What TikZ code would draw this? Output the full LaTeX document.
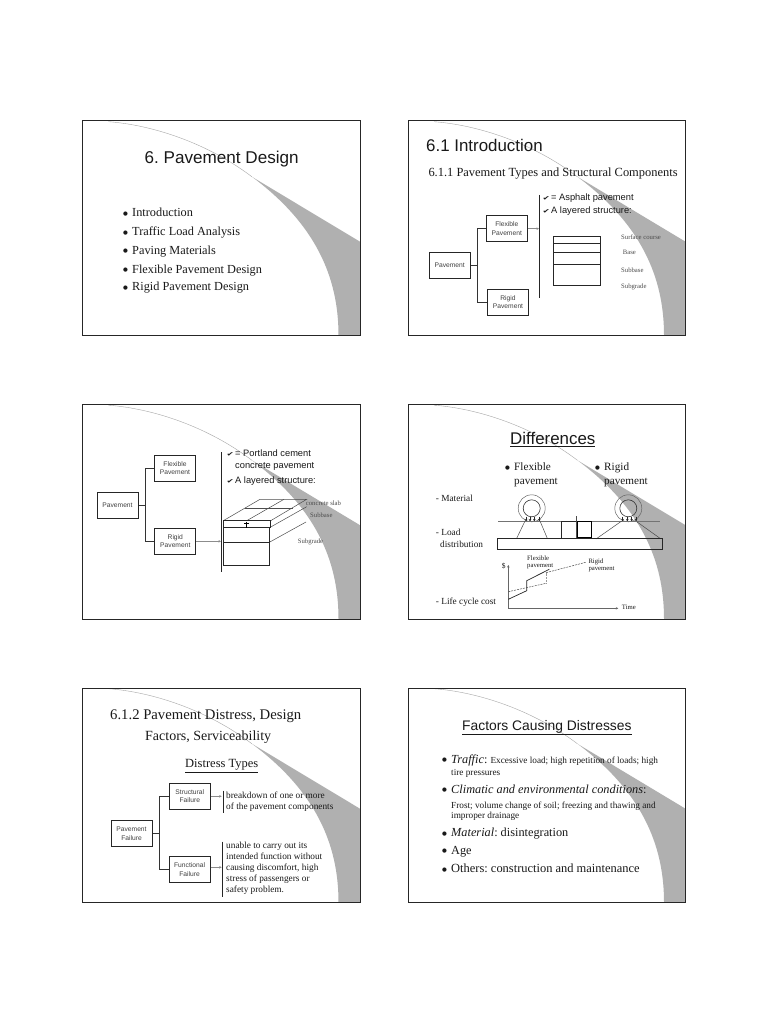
\documentclass[tikz,border=0pt]{standalone}
\usepackage{fontspec}
\usepackage{graphicx}
\setmainfont{Liberation Serif}
\setsansfont{Liberation Sans}
\newfontfamily\symfont{DejaVu Sans}
\usetikzlibrary{arrows.meta}
\frenchspacing

\newcommand{\fsz}[1]{\fontsize{#1}{#1}\selectfont}
\newcommand{\chk}{\makebox[8.5pt][l]{\scalebox{1.25}[0.9]{\symfont\fontsize{7}{7}\selectfont ✔}}}
\newcommand{\blt}{\makebox[9pt][l]{\raisebox{1.4pt}{\symfont\fontsize{5.5}{5.5}\selectfont ●}}}

\tikzset{
    txt/.style={anchor=base west,inner sep=0pt,text=black!90},
    para/.style={anchor=north west,inner sep=0pt,align=left,text=black!90},
    title/.style={anchor=base west,inner sep=0pt,font=\sffamily\fsz{#1},text=black!90},
    boxnode/.style={draw=black!85,line width=1pt,inner sep=0pt,align=center,
        minimum width=41pt,minimum height=26pt,text=black!75,
        font=\sffamily\fontsize{6.7}{8.3}\selectfont},
    tree/.style={draw=black!80,line width=1pt},
    feed/.style={draw=black!45,line width=0.6pt,-{Stealth[length=2.5pt,width=2.5pt]}},
    rule/.style={draw=black!85,line width=0.9pt},
    small/.style={anchor=west,inner sep=0pt,text=black!70,font=\fsz{6.7}},
    load/.style={draw=black!85,line width=0.6pt,-{Stealth[length=2.5pt,width=2.5pt]}}
}
\definecolor{swoosh}{gray}{0.69}

\begin{document}
\begin{tikzpicture}[x=1pt,y=-1pt]
    \useasboundingbox (0,0) rectangle (768,1024);
    \fill[white] (0,0) rectangle (768,1024);

    % the same background on all six slides
    \foreach \sx/\sy in {82.5/121,408/121,82.5/404.5,408/404.5,82.5/688,408/688} {
        \begin{scope}[shift={(\sx,\sy)}]
            \fill[swoosh] (169.3,55.7) -- (277.5,120.7) -- (277.5,214.5) -- (256,214.5)
                .. controls (256,165) and (240,108) .. (169.3,55.7);
            \draw[black!35,line width=0.4pt] (26,0.7) .. controls (70,4) and (125,22) .. (169.3,55.7);
            \draw[black!85,line width=1pt] (0,0) rectangle (277.5,214.5);
        \end{scope}
    }

    % slide 1
    \node[title=17.1] (s1title) at (144.5,164) {6. Pavement Design};
    \node[txt,font=\fsz{12.3}] (s1a) at (123,217) {\blt Introduction};
    \node[txt,font=\fsz{12.3}] (s1b) at (123,235.5) {\blt Traffic Load Analysis};
    \node[txt,font=\fsz{12.3}] (s1c) at (123,254) {\blt Paving Materials};
    \node[txt,font=\fsz{12.3}] (s1d) at (123,273) {\blt Flexible Pavement Design};
    \node[txt,font=\fsz{12.3}] (s1e) at (123,290.5) {\blt Rigid Pavement Design};

    % slide 2
    \node[title=16.9] (s2title) at (426,152) {6.1 Introduction};
    \node[txt,font=\fsz{12.45}] (s2sub) at (428.3,176.7) {6.1.1 Pavement Types and Structural Components};
    \node[txt,font=\sffamily\fsz{9.3}] (s2c) at (542.5,200.7) {\chk= Asphalt pavement};
    \node[txt,font=\sffamily\fsz{9.3}] (s2d) at (542.5,214) {\chk A layered structure:};
    \node[boxnode] (pav) at (449.7,265.7) {Pavement};
    \node[boxnode] (flex) at (506.8,228.7) {Flexible\\Pavement};
    \node[boxnode] (rigid) at (508,302) {Rigid\\Pavement};
    \coordinate (pavj) at (477.3,265.7);
    \coordinate (flexr) at (539,228.7);
    \draw[tree] (pav.east) -- (pavj) |- (flex.west);
    \draw[tree] (pavj) |- (rigid.west);
    \draw[feed] (flex.east) -- (flexr);
    \draw[rule] (539.3,195) -- (539.3,297.7);
    \draw[rule] (553.7,236.3) rectangle (600.7,285);
    \draw[rule] (553.7,243.3) -- (600.7,243.3);
    \draw[rule] (553.7,252.3) -- (600.7,252.3);
    \draw[rule] (553.7,264) -- (600.7,264);
    \node[small] (s2l1) at (621,237) {Surface course};
    \node[small] (s2l2) at (622.7,252.3) {Base};
    \node[small] (s2l3) at (621,270) {Subbase};
    \node[small] (s2l4) at (621,286.7) {Subgrade};

    % slide 3
    \node[boxnode] (pavb) at (117.5,505.7) {Pavement};
    \node[boxnode] (flexb) at (175,468.3) {Flexible\\Pavement};
    \node[boxnode] (rigidb) at (175.3,541.3) {Rigid\\Pavement};
    \coordinate (pavbj) at (145,505.7);
    \coordinate (rigidr) at (221,541.3);
    \draw[tree] (pavb.east) -- (pavbj) |- (flexb.west);
    \draw[tree] (pavbj) |- (rigidb.west);
    \draw[feed] (rigidb.east) -- (rigidr);
    \draw[rule] (221.3,452) -- (221.3,571.7);
    \node[txt,font=\sffamily\fsz{9.3}] (s3a) at (226.5,456.7) {\chk= Portland cement};
    \node[txt,font=\sffamily\fsz{9.3}] (s3b) at (235,468.3) {concrete pavement};
    \node[txt,font=\sffamily\fsz{9.3}] (s3c) at (226.5,483) {\chk A layered structure:};
    % block with the slab on top
    \draw[black!70,line width=0.5pt] (223.3,520.7) -- (260,499.3) -- (306.7,499.3) -- (270.7,520.7);
    \draw[black!70,line width=0.5pt] (246.7,520.7) -- (284,499.3);
    \draw[black!70,line width=0.5pt] (245,508.3) -- (293.3,508.3);
    \draw[black!70,line width=0.5pt] (270.7,527) -- (306.7,506.7);
    \draw[black!70,line width=0.5pt] (269.3,542.3) -- (306,522);
    \draw[rule] (223.3,520.7) rectangle (270.7,527);
    \draw[rule] (223.3,527.7) rectangle (269.3,565);
    \draw[rule] (223.3,542.3) -- (269.3,542.3);
    \draw[black,line width=1.4pt] (246.7,521.7) -- (246.7,527.5);
    \draw[black,line width=1pt] (244.3,523.3) -- (249.3,523.3);
    \node[small] (s3l1) at (305.7,503.7) {concrete slab};
    \node[small] (s3l2) at (310,515) {Subbase};
    \node[small] (s3l3) at (297.7,542) {Subgrade};

    % slide 4
    \node[title=16.9] (s4title) at (510,444.3) {\underline{Differences}};
    \node[txt,font=\fsz{11.2}] (s4a) at (505,470.7) {\blt Flexible};
    \node[txt,font=\fsz{11.2}] (s4b) at (514,484) {pavement};
    \node[txt,font=\fsz{11.2}] (s4c) at (595,470.7) {\blt Rigid};
    \node[txt,font=\fsz{11.2}] (s4d) at (604,484) {pavement};
    \node[txt,font=\fsz{9.3}] (s4e) at (435.7,501.3) {- Material};
    \node[txt,font=\fsz{9.3}] (s4f) at (435.7,535.7) {- Load};
    \node[txt,font=\fsz{9.3}] (s4g) at (440,547) {distribution};
    \node[txt,font=\fsz{9.3}] (s4h) at (435.7,604.7) {- Life cycle cost};
    % wheels on the two pavements
    \foreach \wx in {531.7,628.3} {
        \draw[black!60,line width=0.5pt] (\wx,508.3) circle (13.5pt);
        \draw[black!80,line width=0.6pt] (\wx,508.3) circle (8.5pt);
    }
    \foreach \ax in {526,530,534.3,539.3,622.7,627.3,631.7,636}
        \draw[load] (\ax,516.5) -- (\ax,521.5);
    \draw[black!55,line width=0.7pt] (498.3,521) -- (660,521);
    \draw[black!70,line width=0.5pt] (525,521) -- (516.7,538.3);
    \draw[black!70,line width=0.5pt] (540,521) -- (547.3,538.3);
    \draw[black!70,line width=0.5pt] (621.7,521) -- (596,539);
    \draw[black!70,line width=0.5pt] (636.7,521.7) -- (660,538.3);
    \draw[rule] (561.7,521.7) rectangle (576.7,538.3);
    \draw[black,line width=1.1pt] (577.3,521.7) rectangle (591.7,537.7);
    \draw[black!70,line width=0.5pt] (576.7,516) -- (576.7,538);
    \draw[rule] (497.7,538.3) rectangle (662.3,549);
    % cost curves
    \coordinate (orig) at (508.3,608.3);
    \coordinate (ytop) at (508.3,565);
    \coordinate (xend) at (618.3,608.3);
    \draw[black!60,line width=0.5pt,-{Stealth[length=2.5pt,width=2.5pt]}] (orig) -- (ytop);
    \draw[black!60,line width=0.5pt,-{Stealth[length=2.5pt,width=2.5pt]}] (orig) -- (xend);
    \draw[black!85,line width=0.7pt] (508.3,599.3) -- (526.7,590.7) -- (526.7,580.7) -- (549.3,569.3);
    \draw[black!70,line width=0.5pt,dash pattern=on 2pt off 1pt] (508.3,591.7) -- (546,583.3);
    \draw[black!40,line width=0.5pt,densely dotted] (546,583.3) -- (546,572.7);
    \draw[black!70,line width=0.5pt,dash pattern=on 2pt off 1pt] (546,572.7) -- (585.7,562.3);
    \node[txt,font=\fsz{7.5}] (s4i) at (501.7,568.3) {\$};
    \node[txt,font=\fsz{6.7}] (s4j) at (527,560.5) {Flexible};
    \node[txt,font=\fsz{6.7}] (s4k) at (527,567) {pavement};
    \node[txt,font=\fsz{6.7}] (s4l) at (588.3,563) {Rigid};
    \node[txt,font=\fsz{6.7}] (s4m) at (588.3,570.5) {pavement};
    \node[txt,font=\fsz{6.7}] (s4n) at (621.7,609.5) {Time};

    % slide 5
    \node[txt,font=\fsz{14.7}] (s5a) at (110,719.3) {6.1.2 Pavement Distress, Design};
    \node[txt,font=\fsz{14}] (s5b) at (145,740) {Factors, Serviceability};
    \node[txt,font=\fsz{12.5}] (s5c) at (185,767.7) {\underline{Distress Types}};
    \node[boxnode] (fail) at (131.5,833.7) {Pavement\\Failure};
    \node[boxnode] (struct) at (189.8,796.3) {Structural\\Failure};
    \node[boxnode] (func) at (189.6,869.7) {Functional\\Failure};
    \coordinate (failj) at (159,833.7);
    \coordinate (structr) at (221.7,796.3);
    \coordinate (funcr) at (221.7,867.3);
    \draw[tree] (fail.east) -- (failj) |- (struct.west);
    \draw[tree] (failj) |- (func.west);
    \draw[feed] (struct.east) -- (structr);
    \draw[feed] (func.east |- funcr) -- (funcr);
    \draw[rule] (223,790.7) -- (223,813.3);
    \draw[rule] (222.3,841.7) -- (222.3,896.7);
    \node[para,font=\fontsize{9.3}{11.1}\selectfont] (s5d) at (226,792) {breakdown of one or more\\of the pavement components};
    \node[para,font=\fontsize{9.3}{11.1}\selectfont] (s5e) at (226,841.5) {unable to carry out its\\intended function without\\causing discomfort, high\\stress of passengers or\\safety problem.};

    % slide 6
    \node[title=13.85] (s6title) at (462,730) {\underline{Factors Causing Distresses}};
    \node[txt,font=\fsz{12.3}] (s6a) at (442,763.3) {\blt\textit{Traffic}: {\fsz{9.25}Excessive load; high repetition of loads; high}};
    \node[txt,font=\fsz{9.25}] (s6b) at (451,775.3) {tire pressures};
    \node[txt,font=\fsz{12.3}] (s6c) at (442,793.3) {\blt\textit{Climatic and environmental conditions}:};
    \node[txt,font=\fsz{9.25}] (s6d) at (451,808) {Frost; volume change of soil; freezing and thawing and};
    \node[txt,font=\fsz{9.25}] (s6e) at (451,818.7) {improper drainage};
    \node[txt,font=\fsz{12.3}] (s6f) at (442,836.7) {\blt\textit{Material}: disintegration};
    \node[txt,font=\fsz{12.3}] (s6g) at (442,854) {\blt Age};
    \node[txt,font=\fsz{12.45}] (s6h) at (442,872.7) {\blt Others: construction and maintenance};
\end{tikzpicture}
\end{document}
